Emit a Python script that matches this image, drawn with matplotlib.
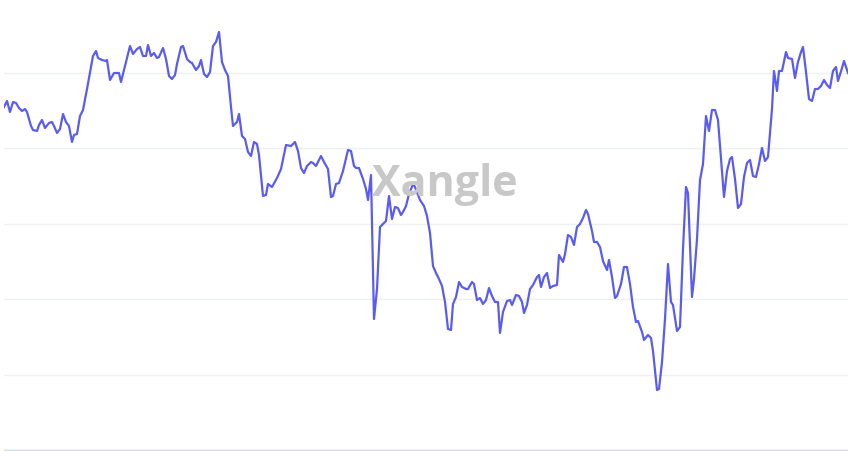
import matplotlib
matplotlib.use("Agg")
import matplotlib.pyplot as plt
from matplotlib.ticker import MultipleLocator

# days since start of the window
t = [0, 3, 6, 9, 12, 15, 18, 21, 23, 27, 29, 33, 35, 38, 41, 45, 48, 50, 53, 56,
     59, 62, 65, 68, 70, 73, 76, 79, 83, 89, 92, 94, 98, 102, 103, 106, 110, 115, 117, 121,
     126, 129, 133,
     136, 139, 142, 144, 147, 150, 153, 155, 159, 162, 165, 168, 171, 173, 177, 179, 183, 186, 188, 192,
     195, 197, 200, 203, 206, 209, 212, 215, 218, 221, 224, 227, 229, 233, 235, 238, 241, 244, 247, 250,
     253, 255, 259, 262, 264, 268, 273,
     277, 282, 287, 291, 294, 297, 300, 303, 307, 309, 312, 317, 320, 324, 327, 329, 332, 335, 339, 344,
     347, 350, 352, 355, 359, 362, 364, 367, 370, 373, 376, 379, 382, 385, 388, 391, 394, 397, 399, 402,
     405, 409, 411,
     416, 420, 423, 426, 429, 432, 435, 438, 441, 444, 447, 449, 452, 455, 458, 462, 464, 468, 470, 473,
     476, 479, 482, 485, 488, 491, 494, 496, 499, 503, 506, 508, 512, 515, 518, 520, 523, 526, 529, 533,
     535, 537, 540, 543, 546, 549, 553, 555,
     559, 561, 564, 567, 570, 573, 576, 579, 582, 584, 588, 590, 593, 596, 599, 603, 605, 608, 611, 613,
     617, 620, 623, 626, 629, 632, 634, 638, 640, 644, 647, 649, 653, 655, 658, 661, 664, 667, 669, 673,
     676, 679, 682, 684, 688, 690, 693,
     696, 699, 702, 705, 708, 711, 714, 717, 720, 723, 726, 728, 731, 734, 737, 740, 743, 746, 749, 752,
     755, 758, 761, 764, 768, 770, 773, 775, 778, 782, 784, 788, 791, 794, 797, 799, 802, 805, 808, 811,
     814, 817, 820, 823, 826, 829, 832, 834, 838, 840, 844]

price = [343, 349, 338, 348, 347, 342, 339, 341, 338, 324, 320, 319, 325, 330, 322, 327, 328, 324, 317, 321,
         336, 328, 324, 308, 315, 316, 334, 340, 361, 394, 399, 392, 390, 389, 390, 370, 377, 377, 368, 384,
         404, 396, 401,
         403, 394, 394, 405, 394, 397, 392, 393, 402, 391, 374, 371, 375, 386, 403, 404, 391, 388, 387, 380,
         384, 390, 376, 373, 378, 404, 408, 418, 388, 380, 374, 343, 324, 328, 336, 314, 311, 298, 294, 308,
         306, 295, 254, 255, 266, 263, 272,
         281, 305, 304, 308, 299, 282, 277, 284, 288, 287, 284, 294, 288, 281, 253, 254, 266, 267, 279, 300,
         299, 284, 282, 282, 271, 261, 250, 275, 131, 161, 223, 226, 229, 254, 231, 243, 242, 235, 238, 244,
         256, 266, 263,
         250, 244, 234, 217, 184, 177, 171, 164, 148, 121, 120, 146, 153, 168, 163, 161, 161, 168, 166, 150,
         152, 146, 150, 162, 154, 148, 148, 117, 138, 149, 150, 145, 155, 154, 148, 137, 145, 161, 165, 173,
         175, 163, 173, 177, 162, 164, 165, 195,
         188, 196, 215, 213, 205, 223, 226, 232, 240, 236, 219, 208, 208, 203, 189, 180, 190, 173, 152, 154,
         166, 183, 183, 166, 143, 128, 129, 118, 110, 115, 112, 99, 60, 61, 88, 131, 186, 148, 145, 119,
         123, 201, 263, 257, 153, 171, 211,
         270, 286, 334, 319, 340, 340, 330, 291, 253, 279, 291, 293, 271, 242, 246, 273, 287, 290, 274, 273,
         286, 302, 289, 293, 341, 379, 359, 379, 379, 398, 392, 391, 372, 388, 398, 403, 378, 351, 349, 361,
         361, 364, 370, 365, 362, 379, 383, 369, 382, 389, 377]

W, H = 848, 452
fig = plt.figure(figsize=(W / 100, H / 100), dpi=100)
ax = fig.add_axes([4 / W, 1 / H, 844 / W, 451 / H])

ax.plot(t, price, color="#5a5cf0", lw=1.6, zorder=3, solid_joinstyle="round")
ax.set_xlim(0, 844)
ax.set_ylim(0, 451)
ax.yaxis.set_major_locator(MultipleLocator(75.4))
ax.grid(axis="y", color="#eef0f4", lw=1.0, zorder=0)
ax.tick_params(left=False, bottom=False, labelleft=False, labelbottom=False)
for side in ("top", "right", "left"):
    ax.spines[side].set_visible(False)
ax.spines["bottom"].set_color("#d0d8e4")
ax.spines["bottom"].set_linewidth(1.0)

fig.text(445 / W, 1 - 196 / H, "Xangle", family=["Open Sans", "DejaVu Sans"],
         fontweight="bold", fontsize=31, color="#c8c8c8",
         ha="center", va="baseline", zorder=1)

fig.savefig("out.png", dpi=100)
